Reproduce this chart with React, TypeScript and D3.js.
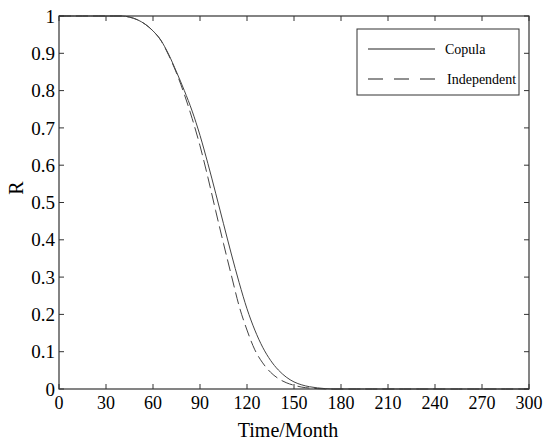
import React from 'react';
import * as d3 from 'd3';

// months sampled every 5 from 0 to 300
const months: number[] = d3.range(0, 301, 5);

// R values (0..170), then 0 up to 300
const copulaHead: number[] = [
    1, 1, 1, 1, 1, 1, 1, 1, 1, 0.997, 0.99, 0.978, 0.96, 0.935, 0.897, 0.85,
    0.8, 0.745, 0.68, 0.605, 0.525, 0.443, 0.362, 0.285, 0.215, 0.158, 0.112,
    0.077, 0.051, 0.032, 0.019, 0.011, 0.006, 0.003, 0.001,
];
const independentHead: number[] = [
    1, 1, 1, 1, 1, 1, 1, 1, 1, 0.997, 0.99, 0.978, 0.96, 0.935, 0.895, 0.847,
    0.79, 0.725, 0.652, 0.568, 0.478, 0.39, 0.305, 0.222, 0.158, 0.105, 0.07,
    0.045, 0.028, 0.017, 0.01, 0.005, 0.0025, 0.001, 0,
];
const copula: number[] = months.map((_, i) => (i < copulaHead.length ? copulaHead[i] : 0));
const independent: number[] = months.map((_, i) => (i < independentHead.length ? independentHead[i] : 0));

const xTicks: number[] = [0, 30, 60, 90, 120, 150, 180, 210, 240, 270, 300];
const yTicks: number[] = [0, 0.1, 0.2, 0.3, 0.4, 0.5, 0.6, 0.7, 0.8, 0.9, 1];

const W = 550;
const H = 446;
const margin = { top: 16, right: 21, bottom: 57, left: 59 };
const FONT = '"Liberation Serif", "Times New Roman", serif';
const INK = '#333';

export default function App() {
    const x = d3.scaleLinear().domain([0, 300]).range([margin.left, W - margin.right]);
    const y = d3.scaleLinear().domain([0, 1]).range([H - margin.bottom, margin.top]);
    const [x0, x1] = x.range();
    const [y0, y1] = y.range();

    const line = d3.line<number>()
        .x((_, i) => x(months[i]))
        .y(d => y(d))
        .curve(d3.curveMonotoneX);

    const tick = 5;

    return (
        <div style={{ position: 'absolute', left: 0, top: 0 }}>
            <svg width={W} height={H} style={{ display: 'block', background: '#fff' }}>
                {/* curves */}
                <path d={line(independent) || ''} fill="none" stroke="#444" strokeWidth={1} strokeDasharray="12,5" />
                <path d={line(copula) || ''} fill="none" stroke="#444" strokeWidth={1} />

                {/* box */}
                <rect x={x0} y={y1} width={x1 - x0} height={y0 - y1} fill="none" stroke={INK} strokeWidth={1.2} />

                {/* x ticks */}
                {xTicks.map(t => (
                    <g key={'x' + t}>
                        <line x1={x(t)} x2={x(t)} y1={y0} y2={y0 - tick} stroke={INK} />
                        <line x1={x(t)} x2={x(t)} y1={y1} y2={y1 + tick} stroke={INK} />
                        <text x={x(t)} y={409} textAnchor="middle" fontFamily={FONT} fontSize={18} fill="#000">{t}</text>
                    </g>
                ))}

                {/* y ticks */}
                {yTicks.map(t => (
                    <g key={'y' + t}>
                        <line x1={x0} x2={x0 + tick} y1={y(t)} y2={y(t)} stroke={INK} />
                        <line x1={x1} x2={x1 - tick} y1={y(t)} y2={y(t)} stroke={INK} />
                        <text x={x0 - 4} y={y(t)} dy="0.35em" textAnchor="end" fontFamily={FONT} fontSize={19} fill="#000">{d3.format('~g')(t)}</text>
                    </g>
                ))}

                {/* axis labels */}
                <text x={288} y={437} textAnchor="middle" fontFamily={FONT} fontSize={20} fill="#000">Time/Month</text>
                <text transform="translate(23,188) rotate(-90)" textAnchor="middle" fontFamily={FONT} fontSize={20} fill="#000">R</text>

                {/* legend */}
                <g>
                    <rect x={357} y={29} width={162} height={66} fill="#fff" stroke={INK} strokeWidth={1} />
                    <line x1={368} x2={435} y1={49} y2={49} stroke="#222" strokeWidth={1.2} />
                    <text x={445} y={54} fontFamily={FONT} fontSize={14} fill="#000">Copula</text>
                    <line x1={368} x2={437} y1={79} y2={79} stroke="#222" strokeWidth={1.2} strokeDasharray="15,11" />
                    <text x={447} y={84} fontFamily={FONT} fontSize={14} fill="#000">Independent</text>
                </g>
            </svg>
        </div>
    );
}
